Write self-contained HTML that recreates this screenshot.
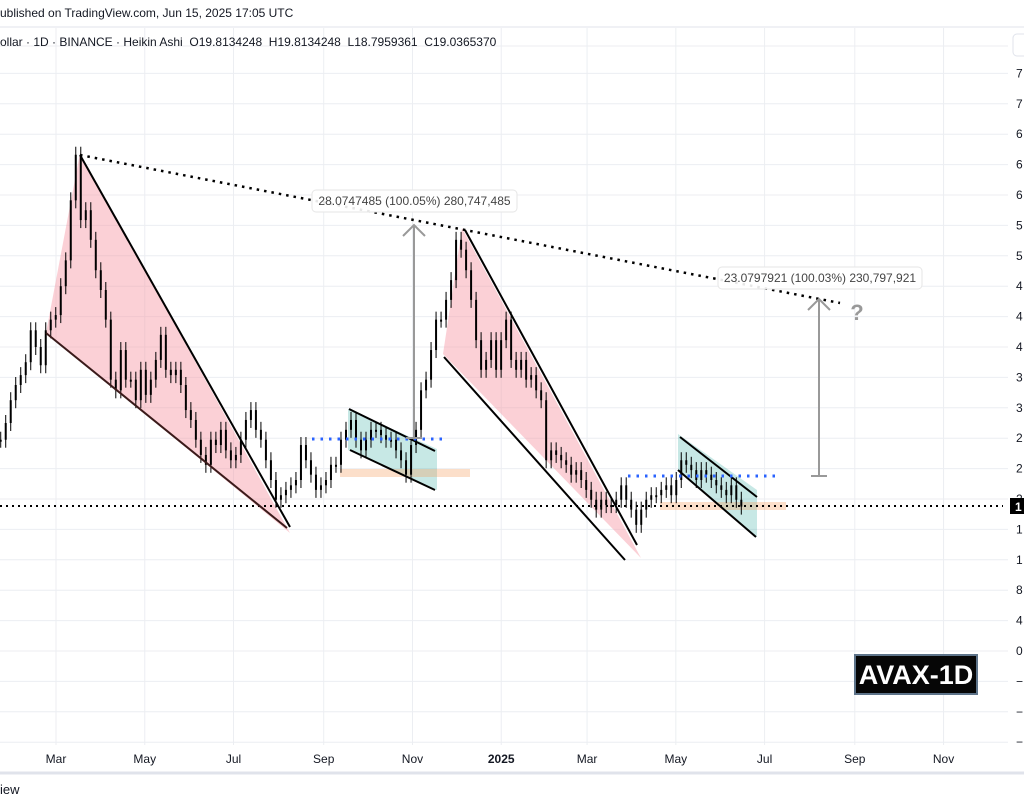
<!DOCTYPE html>
<html><head><meta charset="utf-8"><style>
html,body{margin:0;padding:0;background:#fff;width:1024px;height:808px;overflow:hidden;font-family:"Liberation Sans",sans-serif}
#hdr{position:absolute;left:0;top:6px;font-size:12px;color:#131722;white-space:nowrap}
#leg{position:absolute;left:0;top:35px;font-size:12px;color:#131722;white-space:nowrap}
#foot{position:absolute;left:0;top:782px;font-size:13px;color:#131722}
svg{position:absolute;left:0;top:0}
</style></head><body>
<svg width="1024" height="808" id="chart"></svg>
<div id="hdr">ublished on TradingView.com, Jun 15, 2025 17:05 UTC</div>
<div id="leg">ollar · 1D · BINANCE · Heikin Ashi&nbsp; O19.8134248&nbsp; H19.8134248&nbsp; L18.7959361&nbsp; C19.0365370</div>
<div id="foot">iew</div>
<script>
const closes=[27.8,30,33.0,35,36.3,38,42.2,40,37.6,42.2,43.6,44.2,48,51.4,59.3,65.3,56.7,58.0,54.1,50.1,47.5,43.6,35.7,34.3,39.6,35.7,35.7,33.0,37.0,33.7,35.7,38.3,41.6,37.0,36.3,37.0,35.0,31.7,30.4,27.8,25.8,24.5,27.8,27.1,29.1,26.4,25.1,25.8,27.8,30.4,31.7,29.1,27.8,25.1,22.5,19.9,20.5,21.2,21.8,22.5,27.1,25.1,23.2,21.2,21.8,22.5,24.5,24.5,27.8,29.1,30.4,27.8,26.4,27.8,29.1,29.1,28.4,27.8,27.8,26.4,25.1,23.2,27.1,29.1,34.3,35.7,39.6,43.6,43.6,46.2,48.8,54.1,52.8,50.1,46.2,40.9,37.0,38.3,40.9,37.0,40.9,43.6,38.3,37.0,38.3,35.7,36.3,34.3,33.0,25.1,26.4,25.8,25.1,24.5,23.2,23.8,22.5,21.2,19.9,18.6,19.9,19.2,19.2,19.9,21.8,19.9,18.6,16.6,18.6,19.9,20.5,20.5,21.2,21.8,20.5,22.5,25.1,24.5,23.8,22.5,23.8,23.2,22.5,21.8,21.2,20.5,21.8,19.9,19.0];
const monthLabels=["Mar","May","Jul","Sep","Nov","2025","Mar","May","Jul","Sep","Nov"];
const monthDays=[0,61,122,184,245,306,365,426,487,549,610];
const priceTicks=[76,72,68,64,60,56,52,48,44,40,36,32,28,24,20,16,12,8,4,0,-4,-8,-12];
const startDay=-38, endDay=471;
const NS="http://www.w3.org/2000/svg";
const svg=document.getElementById('chart');
const yS=p=>651-p*7.6;
const xD=d=>56+d*1.455;
const xI=i=>xD(startDay+i*(endDay-startDay)/(closes.length-1));
function el(t,a,parent){const e=document.createElementNS(NS,t);for(const k in a)e.setAttribute(k,a[k]);(parent||svg).appendChild(e);return e;}
const grid=el('g',{});


el('line',{x1:0,x2:1008,y1:46,y2:46,stroke:'#eceef2'},grid);
priceTicks.forEach(p=>{
 const l=el('line',{x1:0,x2:1008,y1:yS(p),y2:yS(p),stroke:'#eceef2'},grid);
 
 
 const t=el('text',{x:1016,y:yS(p)+4,'font-size':12,fill:'#131722','font-family':'Liberation Sans'});
 t.textContent=p<0?'−':String(p).charAt(0);
 
 
});
monthDays.forEach((d,i)=>{
 const l=el('line',{x1:xD(d),x2:xD(d),y1:28,y2:745,stroke:'#eceef2'},grid);
 
 
 const t=el('text',{x:xD(d),y:763,'font-size':12,fill:'#131722','text-anchor':'middle','font-family':'Liberation Sans','font-weight':monthLabels[i]=='2025'?'bold':'normal'});
 t.textContent=monthLabels[i];
 
 
});
el('line',{x1:0,x2:1024,y1:27,y2:27,stroke:'#e0e3eb'});
el('line',{x1:0,x2:1024,y1:773,y2:773,stroke:'#e0e3eb','stroke-width':3});
el('rect',{x:1013,y:34,width:20,height:22,rx:4,fill:'#fff',stroke:'#e0e3eb'});
function poly(pts,fill,name){const p=el('polygon',{points:pts,fill:fill});}
function line(x1,y1,x2,y2,st,w,da,name){const l=el('line',{x1,y1,x2,y2,stroke:st,'stroke-width':w,'stroke-dasharray':da||'none'});}
poly('80,153 46,333 290,533','rgba(247,150,165,0.45)','falling-wedge-1');
poly('462,228 443,354 641,558','rgba(247,150,165,0.45)','falling-wedge-2');
poly('348,409 437,449 437,490 348,450','rgba(0,150,136,0.22)','bull-flag-1');
poly('678,434 757,490 757,537 678,470','rgba(0,150,136,0.22)','bull-flag-2');
const o1=el('rect',{x:340,y:469,width:130,height:8,fill:'rgba(245,150,80,0.3)'});

const o2=el('rect',{x:660,y:502,width:126,height:8,fill:'rgba(245,150,80,0.3)'});

line(0,506,1003,506,'#000',2,'2,4','current-price-line');
const cg=el('g',{});


closes.forEach((c,i)=>{
 const o=i?closes[i-1]:c;const x=xI(i);
 const top=yS(Math.max(o,c)),bot=yS(Math.min(o,c));
 const w=el('line',{x1:x,x2:x,y1:top-8,y2:bot+8,stroke:'#000','stroke-width':1},cg);
 
 
 const b=el('rect',{x:x-1,y:top,width:2,height:Math.max(2,bot-top),fill:'#000'},cg);
 
 
});
line(80,155,840,303,'#000',2.5,'2.5,5','descending-trendline');
line(80,155,290,527,'#000',2,'','wedge-1-upper');
line(46,333,287,528,'#3a1a1a',2,'','wedge-1-lower');
line(465,230,637,545,'#000',2,'','wedge-2-upper');
line(444,357,625,560,'#000',2,'','wedge-2-lower');
line(349,409,435,451,'#000',2,'','flag-1-upper');
line(350,450,435,490,'#000',2,'','flag-1-lower');
line(680,437,757,497,'#000',2,'','flag-2-upper');
line(678,470,756,537,'#000',2,'','flag-2-lower');
line(312,439,447,439,'#2962ff',3,'2.5,6','resistance-1');
line(628,476,777,476,'#2962ff',3,'2.5,6','resistance-2');
function arrow(x,y1,y2,name){const g=el('g',{stroke:'#999','stroke-width':2,fill:'none'});
 el('line',{x1:x,x2:x,y1:y1,y2:y2},g);el('polyline',{points:`${x-11},${y2+11} ${x},${y2} ${x+11},${y2+11}`},g);el('line',{x1:x-8,x2:x+8,y1:y1,y2:y1},g);}
arrow(414,438,225,'measure-arrow-1');
arrow(819,476,299,'measure-arrow-2');
function lbl(x,y,w,txt,name){const g=el('g',{});
 el('rect',{x,y,width:w,height:22,rx:4,fill:'rgba(255,255,255,0.9)',stroke:'#e6e6e6'},g);
 const t=el('text',{x:x+w/2,y:y+15,'font-size':12,fill:'#444','text-anchor':'middle','font-family':'Liberation Sans'},g);t.textContent=txt;}
lbl(312,190,205,'28.0747485 (100.05%) 280,747,485','measure-label-1');
lbl(718,267,204,'23.0797921 (100.03%) 230,797,921','measure-label-2');
const q=el('text',{x:857,y:320,'font-size':22,'font-weight':'bold',fill:'#999','text-anchor':'middle','font-family':'Liberation Sans'});q.textContent='?';

const tag=el('g',{});
el('rect',{x:1010,y:498,width:14,height:16,fill:'#000'},tag);
const tt=el('text',{x:1015,y:511,'font-size':12,fill:'#fff','font-weight':'bold','font-family':'Liberation Sans'},tag);tt.textContent='1';
const av=el('g',{});
el('rect',{x:855,y:655,width:122,height:39,fill:'#060606',stroke:'#5d7389','stroke-width':2},av);
const at=el('text',{x:916,y:684,'font-size':27,'font-weight':'bold',fill:'#fff','text-anchor':'middle','font-family':'Liberation Sans'},av);at.textContent='AVAX-1D';
</script>
</body></html>
